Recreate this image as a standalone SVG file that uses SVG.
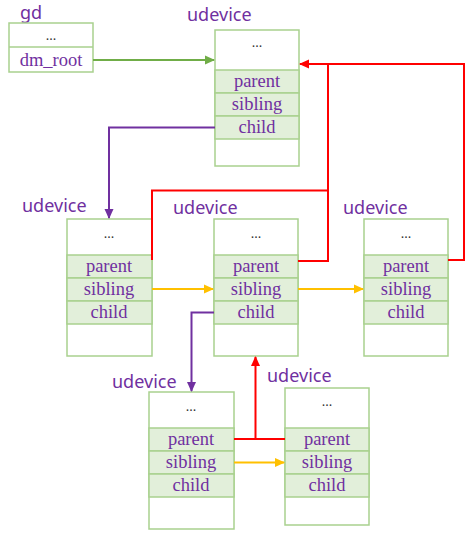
<svg xmlns="http://www.w3.org/2000/svg" width="474" height="536" viewBox="0 0 474 536">
<style>
.box{fill:#fff;stroke:#A9D18E;stroke-width:1.5}
.row{fill:#E2EFDA;stroke:#A9D18E;stroke-width:1.5}
.f{font-family:"Liberation Serif","Times New Roman",serif;font-size:18.5px;fill:#7030A0;text-anchor:middle}
.d{font-family:"Liberation Serif",serif;font-size:14px;fill:#333;text-anchor:middle}
.lbl{font-family:"Noto Sans","Open Sans",sans-serif;font-size:18px;fill:#7030A0}
.c{fill:none;stroke-width:2}
</style>
<defs>
<marker id="ag" markerWidth="10" markerHeight="10" refX="9" refY="5" orient="auto" markerUnits="userSpaceOnUse"><path d="M0,0.5 L10,5 L0,9.5 z" fill="#70AD47"/></marker>
<marker id="ar" markerWidth="10" markerHeight="10" refX="9" refY="5" orient="auto" markerUnits="userSpaceOnUse"><path d="M0,0.5 L10,5 L0,9.5 z" fill="#FF0000"/></marker>
<marker id="ay" markerWidth="10" markerHeight="10" refX="9" refY="5" orient="auto" markerUnits="userSpaceOnUse"><path d="M0,0.5 L10,5 L0,9.5 z" fill="#FFC000"/></marker>
<marker id="ap" markerWidth="10" markerHeight="10" refX="9" refY="5" orient="auto" markerUnits="userSpaceOnUse"><path d="M0,0.5 L10,5 L0,9.5 z" fill="#7030A0"/></marker>
</defs>

<g id="gd">
<text class="lbl" x="20" y="19" font-size="16">gd</text>
<rect class="box" x="9" y="23" width="84" height="49"/>
<line x1="9" y1="47" x2="93" y2="47" stroke="#A9D18E" stroke-width="1.5"/>
<text class="d" x="51" y="40">...</text>
<text class="f" x="51" y="66">dm_root</text>
</g>

<g id="udev-top">
<text class="lbl" x="187" y="21" font-size="16.5">udevice</text>
<rect class="box" x="215" y="30" width="84" height="136"/>
<rect class="row" x="215" y="70" width="84" height="23"/>
<rect class="row" x="215" y="93" width="84" height="23"/>
<rect class="row" x="215" y="116" width="84" height="23"/>
<text class="d" x="257" y="47">...</text>
<text class="f" x="257" y="87">parent</text>
<text class="f" x="257" y="110">sibling</text>
<text class="f" x="257" y="133">child</text>
</g>

<g id="udev-left">
<text class="lbl" x="22" y="212">udevice</text>
<rect class="box" x="67" y="219" width="85" height="137"/>
<rect class="row" x="67" y="255" width="85" height="23"/>
<rect class="row" x="67" y="278" width="85" height="23"/>
<rect class="row" x="67" y="301" width="85" height="23"/>
<text class="d" x="109" y="238">...</text>
<text class="f" x="109" y="272">parent</text>
<text class="f" x="109" y="295">sibling</text>
<text class="f" x="109" y="318">child</text>
</g>

<g id="udev-mid">
<text class="lbl" x="173" y="214">udevice</text>
<rect class="box" x="214" y="219" width="84" height="137"/>
<rect class="row" x="214" y="255" width="84" height="23"/>
<rect class="row" x="214" y="278" width="84" height="23"/>
<rect class="row" x="214" y="301" width="84" height="23"/>
<text class="d" x="256" y="238">...</text>
<text class="f" x="256" y="272">parent</text>
<text class="f" x="256" y="295">sibling</text>
<text class="f" x="256" y="318">child</text>
</g>

<g id="udev-right">
<text class="lbl" x="343" y="214">udevice</text>
<rect class="box" x="364" y="219" width="84" height="137"/>
<rect class="row" x="364" y="255" width="84" height="23"/>
<rect class="row" x="364" y="278" width="84" height="23"/>
<rect class="row" x="364" y="301" width="84" height="23"/>
<text class="d" x="406" y="238">...</text>
<text class="f" x="406" y="272">parent</text>
<text class="f" x="406" y="295">sibling</text>
<text class="f" x="406" y="318">child</text>
</g>

<g id="udev-bl">
<text class="lbl" x="112" y="388">udevice</text>
<rect class="box" x="149" y="392" width="85" height="137"/>
<rect class="row" x="149" y="428" width="85" height="23"/>
<rect class="row" x="149" y="451" width="85" height="23"/>
<rect class="row" x="149" y="474" width="85" height="23"/>
<text class="d" x="191" y="411">...</text>
<text class="f" x="191" y="445">parent</text>
<text class="f" x="191" y="468">sibling</text>
<text class="f" x="191" y="491">child</text>
</g>

<g id="udev-br">
<text class="lbl" x="267" y="382">udevice</text>
<rect class="box" x="285" y="388" width="84" height="137"/>
<rect class="row" x="285" y="428" width="84" height="23"/>
<rect class="row" x="285" y="451" width="84" height="23"/>
<rect class="row" x="285" y="474" width="84" height="23"/>
<text class="d" x="327" y="406">...</text>
<text class="f" x="327" y="445">parent</text>
<text class="f" x="327" y="468">sibling</text>
<text class="f" x="327" y="491">child</text>
</g>

<g id="connectors">
<path class="c" stroke="#70AD47" d="M93,60 H214" marker-end="url(#ag)"/>
<path class="c" stroke="#7030A0" d="M215,127.5 H109 V218" marker-end="url(#ap)"/>
<path class="c" stroke="#7030A0" d="M214,312.5 H191.5 V391" marker-end="url(#ap)"/>
<path class="c" stroke="#FF0000" d="M152,260 V190.5 H328"/>
<path class="c" stroke="#FF0000" d="M298,261 H328 V64 H300" marker-end="url(#ar)"/>
<path class="c" stroke="#FF0000" d="M448,260 H464 V64 H328"/>
<path class="c" stroke="#FFC000" d="M152,289 H213" marker-end="url(#ay)"/>
<path class="c" stroke="#FFC000" d="M298,289 H363" marker-end="url(#ay)"/>
<path class="c" stroke="#FF0000" d="M234,439 H285"/>
<path class="c" stroke="#FF0000" d="M255.5,439 V357" marker-end="url(#ar)"/>
<path class="c" stroke="#FFC000" d="M234,462.5 H284" marker-end="url(#ay)"/>
</g>
</svg>
